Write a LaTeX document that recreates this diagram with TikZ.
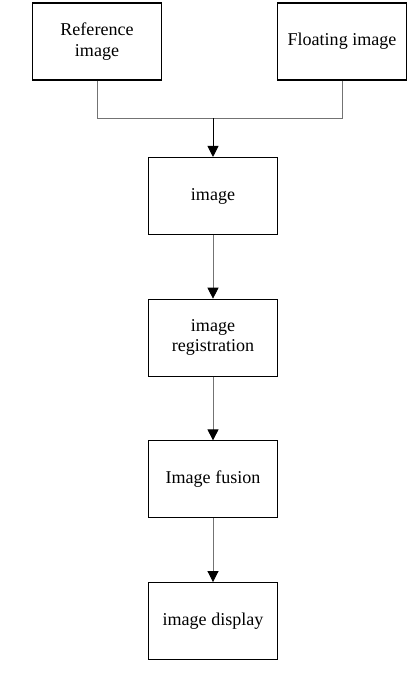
\documentclass[tikz,border=0pt]{standalone}
\usepackage{fontspec}
\setmainfont{Liberation Serif}
\usepackage{tikz}
\usetikzlibrary{arrows.meta}

\begin{document}
\begin{tikzpicture}[x=0.03cm, y=-0.03cm,
		box/.style = {draw, line width=0.9pt, minimum width=3.87cm, minimum height=2.31cm,
			align=center, inner sep=2pt, font=\fontsize{15.4}{17.5}\selectfont},
		link/.style = {draw=black!55, line width=0.7pt},
		tip/.style = {-{Triangle[width=0.33cm, length=0.33cm, color=black]}}]
			\def\xMID{213};
			\def\STEP{141.7};

			\useasboundingbox (0,0) rectangle (408,688);

			\node [box] (ref) at (97,41.5) {Reference\\image};
			\node [box] (float) at (342,41.5) {Floating image};
			\node [box] (img) at (\xMID,196) {image};
			\node [box] (reg) at (\xMID,196+\STEP) {image\\registration};
			\node [box] (fus) at (\xMID,196+2*\STEP) {Image fusion};
			\node [box] (disp) at (\xMID,196+3*\STEP) {image display};

			\coordinate (join) at (\xMID,118);

			\begin{scope}[link]
				\draw (ref.south) |- (join);
				\draw (float.south) |- (join);
			\end{scope}
			\draw [tip, line width=0.8pt] (join) -- (img.north);

			\begin{scope}[link, tip]
				\draw (img) -- (reg);
				\draw (reg) -- (fus);
				\draw (fus) -- (disp);
			\end{scope}
		\end{tikzpicture}
\end{document}
